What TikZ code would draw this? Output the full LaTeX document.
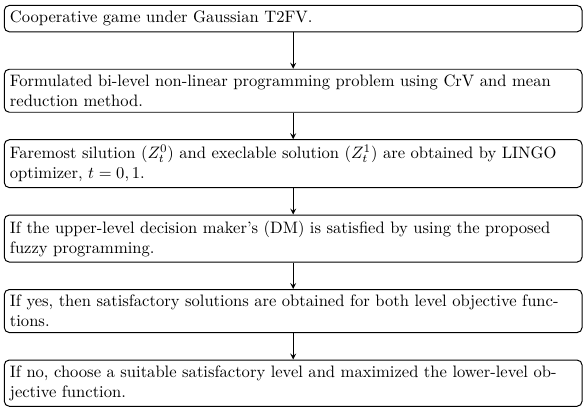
\documentclass[tikz,border=0pt]{standalone}
\usetikzlibrary{arrows,positioning}

\begin{document}
\begin{tikzpicture}[node distance={16pt}, semithick, stage/.style = {draw, rounded corners=3pt, text width=342pt, align=left, inner sep=3.4pt, execute at begin node={\rightskip=5pt plus 2em\relax}}]
        \useasboundingbox (0,0) rectangle (355pt,-245.6pt);
        \node[stage, anchor=north] (1) at (177pt,-3pt) {Cooperative game under Gaussian T2FV.};
        \node[stage] (2) [below=22pt of 1] {Formulated bi-level non-linear programming problem using CrV and mean reduction method.};
        \node[stage] (3) [below=of 2] {Faremost silution $(Z_t^0)$ and execlable solution $(Z_t^1)$ are obtained by LINGO optimizer, $t=0,1$.};
        \node[stage] (4) [below=of 3] {If the upper-level decision maker's (DM) is satisfied by using the proposed fuzzy programming.};
        \node[stage] (5) [below=of 4] {If yes, then satisfactory solutions are obtained for both level objective functions.};
        \node[stage] (6) [below=of 5] {If no, choose a suitable satisfactory level and maximized the lower-level objective function.};
        \draw[-stealth]  (1) edge (2);
        \draw[-stealth]  (2) edge (3);
        \draw[-stealth]  (3) edge (4);
        \draw[-stealth]  (4) edge (5);
        \draw[-stealth]  (5) edge (6);
    \end{tikzpicture}
\end{document}
